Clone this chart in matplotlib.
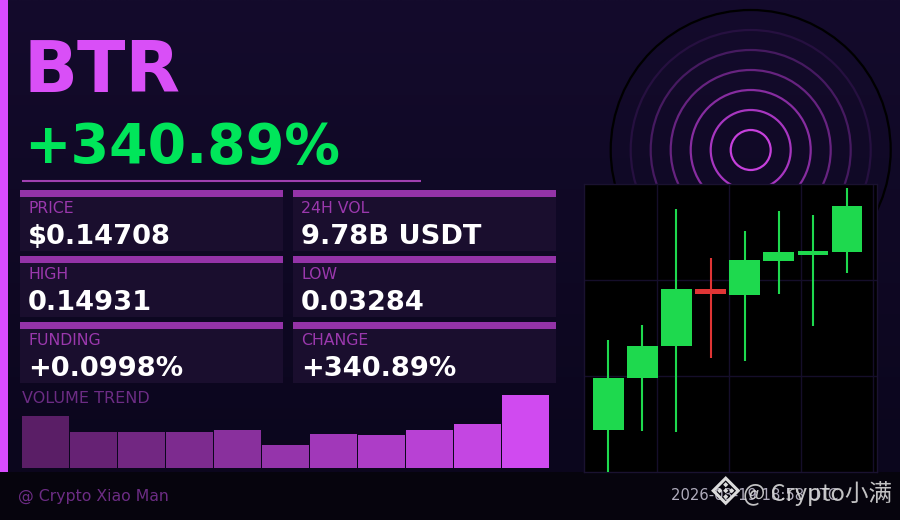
import numpy as np
import matplotlib
matplotlib.use("Agg")
import matplotlib.pyplot as plt
from matplotlib.patches import Rectangle, Circle, Polygon
from matplotlib.colors import to_rgb

# ---------------- data ----------------
symbol = "BTR"
change_text = "+340.89%"
card_labels = ["PRICE", "24H VOL", "HIGH", "LOW", "FUNDING", "CHANGE"]
card_values = ["$0.14708", "9.78B USDT", "0.14931", "0.03284", "+0.0998%", "+340.89%"]
volume_title = "VOLUME TREND"
volumes = [52, 36, 36, 36, 38, 23, 34, 33, 38, 44, 73]
opens = [0.05275, 0.07350, 0.08627, 0.10901, 0.10674, 0.12018, 0.12258, 0.12377]
highs = [0.08866, 0.09465, 0.14093, 0.12138, 0.13215, 0.14013, 0.13854, 0.14931]
lows = [0.03284, 0.05235, 0.05195, 0.08148, 0.08040, 0.10714, 0.09425, 0.11539]
closes = [0.07350, 0.08627, 0.10901, 0.10714, 0.12058, 0.12377, 0.12417, 0.14213]
footer_left = "@ Crypto Xiao Man"
footer_date = "2026-03-19 18:58 UTC"
watermark = "@ Crypto小满"

W, H = 900, 520
fig = plt.figure(figsize=(W / 100, H / 100), dpi=100)
fig.patch.set_facecolor("#0e0823")

# background axes in pixel coordinates
bg = fig.add_axes([0, 0, 1, 1])
bg.set_xlim(0, W)
bg.set_ylim(H, 0)
bg.axis("off")
bg.set_zorder(0)

# vertical gradient
c1 = np.array(to_rgb("#140b2c"))
c2 = np.array(to_rgb("#0b061d"))
t = np.linspace(0, 1, 256)[:, None, None]
grad = c1 * (1 - t) + c2 * t
grad = np.repeat(grad, 2, axis=1)
bg.imshow(grad, extent=[0, W, 472, 0], aspect="auto", zorder=0, interpolation="bilinear")

# rings
ring_center = (750.7, 150)
ring_specs = [(20, "#c640dc"), (40, "#a736c0"), (60, "#872ca0"), (80, "#672380"),
              (100, "#461a60"), (120, "#261040")]
for r, col in ring_specs:
    bg.add_patch(Circle(ring_center, r, fill=False, ec=col, lw=1.6, zorder=1))
bg.add_patch(Circle(ring_center, 140, fill=False, ec="#000000", lw=1.6, zorder=1))

# left accent bar
bg.add_patch(Rectangle((0, 0), 8.3, 472, color="#d94cff", zorder=2, lw=0))

# title
bg.text(24, 92, symbol, color="#d94ff7", fontsize=51, fontweight="bold",
        va="baseline", ha="left", zorder=3)
bg.text(24, 163, change_text, color="#00e65a", fontsize=40, fontweight="bold",
        va="baseline", ha="left", zorder=3)
bg.plot([22, 421], [181, 181], color="#a040b0", lw=1.5, zorder=3, solid_capstyle="butt")

# cards
col_x = [20, 293]
card_w = 263
for i, (lab, val) in enumerate(zip(card_labels, card_values)):
    r, c = divmod(i, 2)
    x0 = col_x[c]
    y0 = 190 + 66 * r
    bg.add_patch(Rectangle((x0, y0), card_w, 6.7, color="#9433a8", lw=0, zorder=2))
    bg.add_patch(Rectangle((x0, y0 + 6.7), card_w, 54.3, color="#1a0e2e", lw=0, zorder=2))
    bg.text(x0 + 8.3, y0 + 23.3, lab, color="#9a38ad", fontsize=11.3,
            va="baseline", ha="left", zorder=3)
    bg.text(x0 + 8, y0 + 53.5, val, color="#ffffff", fontsize=19.6, fontweight="bold",
            va="baseline", ha="left", zorder=3)

# volume label
bg.text(22, 403, volume_title, color="#6c2c84", fontsize=11.5, va="baseline",
        ha="left", zorder=3)

# footer
bg.add_patch(Rectangle((0, 472), W, 48, color="#06040d", lw=0, zorder=4))
bg.text(18, 501, footer_left, color="#6c2c84", fontsize=11.3, va="baseline",
        ha="left", zorder=5)
bg.text(671, 500, footer_date, color="#b0acbc", fontsize=10.6, va="baseline",
        ha="left", zorder=5)
# watermark logo (diamond)
cx, cy = 725.7, 490.7
outer = Polygon([(cx, cy - 12.5), (cx + 12.5, cy), (cx, cy + 12.5), (cx - 12.5, cy)],
                closed=True, fill=False, ec="#dcdcdc", lw=2.2, zorder=6)
bg.add_patch(outer)
for dx, dy in [(0, 0), (6, 0), (-6, 0), (0, 6), (0, -6)]:
    s = 2.6
    bg.add_patch(Polygon([(cx + dx, cy + dy - s), (cx + dx + s, cy + dy),
                          (cx + dx, cy + dy + s), (cx + dx - s, cy + dy)],
                         closed=True, color="#dcdcdc", lw=0, zorder=6))
bg.text(743, 500.7, watermark, color="#d8d8d8", alpha=0.9, fontsize=17,
        family=["Noto Sans CJK SC", "DejaVu Sans"], va="baseline", ha="left", zorder=6)

# ---------------- volume bars ----------------
def px_axes(x0, y0, x1, y1):
    return [x0 / W, 1 - y1 / H, (x1 - x0) / W, (y1 - y0) / H]

vax = fig.add_axes(px_axes(22, 395, 549, 468))
vax.set_zorder(3)
vax.patch.set_alpha(0)
n = len(volumes)
ca = np.array(to_rgb("#5a1e66"))
cb = np.array(to_rgb("#d04af0"))
vcols = [tuple(ca * (1 - f) + cb * f) for f in np.linspace(0, 1, n)]
vax.bar(np.arange(n), volumes, width=0.98, color=vcols, edgecolor="none")
vax.set_xlim(-0.5, n - 0.5)
vax.set_ylim(0, max(volumes))
vax.axis("off")

# ---------------- candlestick ----------------
cax = fig.add_axes(px_axes(584, 184, 877, 472))
cax.set_zorder(3)
cax.set_facecolor("#000000")
idx = np.arange(len(opens))
up = np.array(closes) >= np.array(opens)
colors = np.where(up, "#1ed94e", "#e03535")
cax.vlines(idx, lows, highs, colors=colors, lw=1.5, zorder=3)
bottoms = np.minimum(opens, closes)
heights = np.abs(np.array(closes) - np.array(opens))
cax.bar(idx, heights, bottom=bottoms, width=0.9, color=colors, edgecolor="none", zorder=4)
cax.set_xlim(-0.71, 7.88)
cax.set_ylim(0.036194, 0.150906)
for f in [0.25, 0.496, 0.742, 0.988]:
    cax.plot([f, f], [0, 1], transform=cax.transAxes, color="#150e2a", lw=1, zorder=1)
for f in [1 / 3, 2 / 3]:
    cax.plot([0, 1], [f, f], transform=cax.transAxes, color="#150e2a", lw=1, zorder=1)
cax.set_xticks([])
cax.set_yticks([])
for sp in cax.spines.values():
    sp.set_color("#1a1230")
    sp.set_linewidth(1)

fig.savefig("out.png", dpi=100, facecolor=fig.get_facecolor())
